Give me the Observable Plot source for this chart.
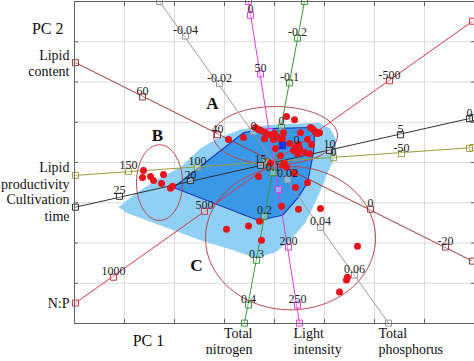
<!DOCTYPE html>
<html><head><meta charset="utf-8">
<script src="https://cdn.jsdelivr.net/npm/d3@7"></script>
<script src="https://cdn.jsdelivr.net/npm/@observablehq/plot@0.6"></script>
<style>body{margin:0;background:#fff} svg text{font-family:'Liberation Serif',serif !important}</style>
</head><body><div id="chart"></div>
<script>
// ---- frame ticks / grid (PC units) ----
const frameTicks = [-4, -3, -2, -1, 0, 1, 2, 3, 4];
const gridTicks = [-3, -2, -1, 0, 1, 2, 3];

// ---- calibrated variable axes: ends on the frame [PC1, PC2], marks [value, PC1, PC2, labelled] ----
const lipidContentEnds = [[-3.98, 2.48], [3.96, -2.45]];
const lipidContentTicks = [[60, -2.64, 1.63, 1], [40, -1.14, 0.69, 1], [20, 0.38, -0.25, 0], [0, 1.92, -1.16, 1], [-20, 3.42, -2.10, 1]];

const lipidProdEnds = [[-3.98, -0.32], [3.96, 0.37]];
const lipidProdTicks = [[150, -2.92, -0.22, 1], [100, -1.54, -0.12, 1], [50, -0.18, 0.0, 0], [0, 1.18, 0.12, 1], [-50, 2.54, 0.22, 1], [-100, 3.9, 0.35, 0]];

const cultTimeEnds = [[-3.98, -1.11], [3.96, 1.11]];
const cultTimeTicks = [[25, -3.1, -0.84, 1], [20, -1.68, -0.45, 1], [15, -0.28, -0.07, 1], [10, 1.1, 0.3, 1], [5, 2.52, 0.69, 1], [0, 3.9, 1.09, 1]];

const npEnds = [[-3.98, -3.49], [3.96, 3.51]];
const npTicks = [[1000, -3.22, -2.85, 1], [500, -1.4, -1.21, 1], [0, 0.44, 0.4, 1], [-500, 2.3, 2.03, 1]];

const nitrogenEnds = [[0.6, 4.0], [-0.6, -3.99]];
const nitrogenTicks = [[-0.2, 0.46, 3.09, 1], [-0.1, 0.3, 1.98, 1], [0, 0.14, 0.87, 1], [0.1, -0.03, -0.25, 1], [0.2, -0.2, -1.34, 1], [0.3, -0.36, -2.43, 1], [0.4, -0.52, -3.54, 1]];

const lightEnds = [[-0.52, 4.0], [0.5, -3.99]];
const lightTicks = [[0, -0.48, 3.66, 1], [50, -0.28, 2.2, 1], [100, -0.1, 0.77, 0], [150, 0.08, -0.67, 0], [200, 0.28, -2.1, 1], [250, 0.46, -3.54, 1]];

const phosphorusEnds = [[-2.3, 4.0], [2.28, -3.99]];
const phosphorusTicks = [[-0.04, -1.78, 3.14, 1], [-0.02, -1.1, 1.96, 1], [0, -0.42, 0.77, 1], [0.02, 0.26, -0.42, 1], [0.04, 0.92, -1.61, 1], [0.06, 1.6, -2.8, 1]];

// ---- hulls [PC1, PC2] ----
const outerHull = [[-3.12, -1.11], [-2.78, -0.77], [-2.28, -0.37], [-1.88, -0.12], [-1.48, 0.35], [-1.18, 0.57], [-0.68, 0.82], [-0.08, 0.94], [0.88, 0.99], [1.12, 0.84], [1.24, 0.54], [1.2, 0.1], [1.04, -0.32], [0.88, -0.82], [0.62, -1.49], [0.32, -1.93], [0.02, -2.23], [-0.38, -2.38], [-0.78, -2.2], [-1.48, -1.93], [-2.94, -1.26]];
const innerHull = [[-2.02, -0.62], [-0.62, 0.74], [-0.08, 0.84], [0.68, 0.87], [0.8, 0.67], [0.78, 0.25], [0.66, -0.5], [0.46, -0.89], [0.16, -1.31], [-0.32, -1.44]];

// ---- sample scores ----
const pc1Scores = [-2.62, -2.64, -2.48, -2.42, -2.22, -2.26, -2.08, -2.04,
  -0.92, -0.62, -0.38, -0.32, -0.26, -0.18, -0.08, 0.0, 0.06, 0.16, 0.18, 0.24, 0.4, -0.2, -0.02, 0.14, 0.3, 0.42, 0.5, 0.46, 0.6, 0.7, 0.66, 0.74, 0.02, 0.12, 0.2, -0.08, 0.72, 0.76, 0.82, 0.86, 0.9, 0.52, 0.48, 0.38, -0.32, 0.4, 0.66, 0.42, 0.16, 0.24,
  -0.96, -0.52, -0.3, -0.26, 0.14, 0.48, 0.92, 1.66, 1.46, 1.44, 1.3];
const pc2Scores = [-0.2, -0.37, -0.35, -0.45, -0.3, -0.52, -0.64, -0.59,
  0.57, 0.62, 0.87, 0.82, 0.79, 0.74, 0.69, 0.72, 0.62, 0.59, 0.74, 1.14, 1.06, 0.59, 0.57, 0.57, 0.47, 0.37, 0.35, 0.22, 0.25, 0.22, 0.57, 0.45, 0.35, 0.17, -0.02, -0.02, 0.87, 0.84, 0.77, 0.72, 0.74, 0.74, 0.45, 0.3, -0.35, -0.27, -0.5, -0.62, -0.07, -0.12,
  -1.66, -1.58, -1.46, -1.93, -1.09, -1.16, -1.14, -2.08, -2.85, -2.92, -3.22];
const meanPoint = [[0.16, 0.42]];

// ---- group ellipses and letters ----
const groupNames = ["A", "B", "C"];
const groupCx = [0.02, -2.3, 0.32];
const groupCy = [0.67, -0.5, -1.88];
const groupRx = [1.24, 0.46, 1.7];
const groupRy = [0.72, 0.94, 1.78];
const letterX = [-1.24, -2.34, -1.56];
const letterY = [1.46, 0.67, -2.55];

// ---- build tables ----
const variables = [
  {name: "Lipid\ncontent", color: "#9b3a3a", ends: lipidContentEnds, ticks: lipidContentTicks, side: "left"},
  {name: "Lipid\nproductivity", color: "#9c9c3c", ends: lipidProdEnds, ticks: lipidProdTicks, side: "left"},
  {name: "Cultivation\ntime", color: "#303030", ends: cultTimeEnds, ticks: cultTimeTicks, side: "left"},
  {name: "N:P", color: "#d2384a", ends: npEnds, ticks: npTicks, side: "left"},
  {name: "Total\nnitrogen", color: "#3c983c", ends: nitrogenEnds, ticks: nitrogenTicks, side: "bottom", anchor: "end", dx: 8},
  {name: "Light\nintensity", color: "#e03ee0", ends: lightEnds, ticks: lightTicks, side: "bottom", anchor: "start", dx: -6},
  {name: "Total\nphosphorus", color: "#9a9a9a", ends: phosphorusEnds, ticks: phosphorusTicks, side: "bottom", anchor: "start", dx: -10}
];
const lineRows = variables.flatMap((v, i) => v.ends.map(([x, y]) => ({x, y, id: i, color: v.color})));
const markerRows = variables.flatMap(v => [...v.ends.map(([x, y]) => ({x, y, color: v.color})),
  ...v.ticks.map(([value, x, y]) => ({x, y, color: v.color}))]);
const labelRows = variables.flatMap(v => v.ticks.filter(t => t[3]).map(([value, x, y]) => ({x, y, text: String(value)})));
const leftNames = variables.filter(v => v.side === "left").map(v => ({y: v.ends[0][1], name: v.name}));
const bottomNames = variables.filter(v => v.side === "bottom");

const dots = pc1Scores.map((x, i) => ({x, y: pc2Scores[i]}));
const outerRows = outerHull.map(([x, y]) => ({x, y}));
const innerRows = innerHull.map(([x, y]) => ({x, y}));
const ellipseRows = groupNames.flatMap((g, i) => d3.range(0, 360, 4).map(a => ({
  id: g,
  x: groupCx[i] + groupRx[i] * Math.cos(a * Math.PI / 180),
  y: groupCy[i] + groupRy[i] * Math.sin(a * Math.PI / 180)
})));
const letters = groupNames.map((g, i) => ({x: letterX[i], y: letterY[i], g}));

const serif = "'Liberation Serif', serif";

const chart = Plot.plot({
  width: 474, height: 361,
  marginLeft: 74, marginRight: 0, marginTop: 1, marginBottom: 38,
  style: "font-family: 'Liberation Serif', serif; background: white; color: #222;",
  x: {domain: [-4, 4], axis: null},
  y: {domain: [-4, 4], axis: null},
  marks: [
    Plot.gridX(gridTicks, {stroke: "#dadada", strokeOpacity: 1}),
    Plot.gridY(gridTicks, {stroke: "#dadada", strokeOpacity: 1}),
    Plot.line(outerRows, {x: "x", y: "y", fill: "#8fd0f4", stroke: "none", curve: "linear-closed"}),
    Plot.line(innerRows, {x: "x", y: "y", fill: "#3a98e8", stroke: "#1c3cc0", strokeWidth: 1.2, curve: "linear-closed"}),
    Plot.line(ellipseRows, {x: "x", y: "y", z: "id", stroke: "#b8474c", strokeWidth: 1, curve: "linear-closed"}),
    Plot.line(lineRows, {x: "x", y: "y", z: "id", stroke: "color", strokeWidth: 1}),
    Plot.dot(markerRows, {x: "x", y: "y", symbol: "square", r: 3.4, stroke: "color", strokeWidth: 1, fill: "white", fillOpacity: 0.35}),
    Plot.dot(dots, {x: "x", y: "y", r: 3.5, fill: "#e8141c", stroke: "none"}),
    Plot.dot(meanPoint, {x: d => d[0], y: d => d[1], symbol: "square", r: 4.2, fill: "#1432e0"}),
    Plot.text(labelRows, {x: "x", y: "y", text: "text", fontFamily: serif, fontSize: 12, lineAnchor: "bottom", dy: -2, fill: "#222"}),
    Plot.text(letters, {x: "x", y: "y", text: "g", fontFamily: serif, fontSize: 17, fontWeight: "bold", fill: "#111"}),
    Plot.frame({stroke: "#606060"}),
    Plot.axisX(frameTicks, {anchor: "bottom", tickSize: -4, tickFormat: () => "", label: null, stroke: "#606060"}),
    Plot.axisX(frameTicks, {anchor: "top", tickSize: -4, tickFormat: () => "", label: null, stroke: "#606060"}),
    Plot.axisY(frameTicks, {anchor: "left", tickSize: -4, tickFormat: () => "", label: null, stroke: "#606060"}),
    Plot.axisY(frameTicks, {anchor: "right", tickSize: -4, tickFormat: () => "", label: null, stroke: "#606060"}),
    Plot.text(leftNames, {y: "y", text: "name", frameAnchor: "left", textAnchor: "end", dx: -5, fontFamily: serif, fontSize: 14, lineHeight: 1.2, fill: "#111"}),
    ...bottomNames.map(v => Plot.text([{x: v.ends[1][0], name: v.name}], {
      x: "x", text: "name", frameAnchor: "bottom", textAnchor: v.anchor, dx: v.dx, dy: 3,
      lineAnchor: "top", fontFamily: serif, fontSize: 14, lineHeight: 1.15, fill: "#111"})),
    Plot.text(["PC 2"], {text: d => d, frameAnchor: "top-left", textAnchor: "end", dx: -11, dy: 21, fontFamily: serif, fontSize: 16, fill: "#111"}),
    Plot.text(["PC 1"], {text: d => d, frameAnchor: "bottom-left", textAnchor: "middle", dx: 74, dy: 22, fontFamily: serif, fontSize: 16, fill: "#111"})
  ]
});
document.getElementById("chart").appendChild(chart);
</script>
</body></html>
